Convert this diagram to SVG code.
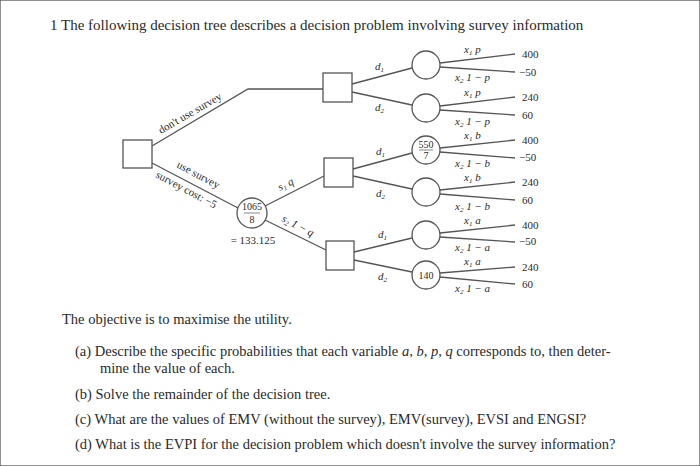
<svg xmlns="http://www.w3.org/2000/svg" width="700" height="466" viewBox="0 0 700 466">
<style>
text{font-family:"Liberation Serif","DejaVu Serif",serif;fill:#2a2a2a}
.t{font-size:14.5px}
.h{font-size:15px}
.s{font-size:10px}
.m{font-size:11px;font-style:italic}
.n{font-size:11px}
line,polyline{stroke:#555;stroke-width:1.3;fill:none}
rect,circle{stroke:#555;stroke-width:1.3;fill:none}
</style>
<rect width="700" height="466" fill="#f1f1ef"/>
<text class="h" x="50" y="30">1 The following decision tree describes a decision problem involving survey information</text>
<g id="connectors">
<polyline points="152,146 248,89 323,89"/>
<line x1="152" y1="163" x2="238" y2="208"/>
<line x1="265" y1="206" x2="324" y2="176"/>
<line x1="265" y1="220" x2="326" y2="250"/>
<line x1="352" y1="84" x2="412" y2="68"/>
<line x1="352" y1="92" x2="412" y2="105"/>
<line x1="353" y1="169" x2="412" y2="153"/>
<line x1="353" y1="176" x2="412" y2="189"/>
<line x1="354" y1="252" x2="412" y2="238"/>
<line x1="354" y1="260" x2="412" y2="272"/>
<g id="outs">
<line x1="440" y1="63" x2="515" y2="54"/><line x1="440" y1="67" x2="515" y2="72"/>
<line x1="440" y1="106" x2="515" y2="97"/><line x1="440" y1="110" x2="515" y2="115"/>
<line x1="440" y1="148" x2="515" y2="140"/><line x1="440" y1="152" x2="515" y2="158"/>
<line x1="440" y1="190" x2="515" y2="182"/><line x1="440" y1="194" x2="515" y2="200"/>
<line x1="440" y1="233" x2="515" y2="225"/><line x1="440" y1="237" x2="515" y2="242"/>
<line x1="440" y1="273" x2="515" y2="267"/><line x1="440" y1="277" x2="515" y2="284"/>
</g>
</g>
<g id="root"><rect x="123" y="140" width="29" height="28"/></g>
<g id="d-none"><rect x="323" y="73" width="29" height="29"/></g>
<g id="d-s1"><rect x="324" y="158" width="29" height="29"/></g>
<g id="d-s2"><rect x="326" y="241" width="28" height="29"/></g>
<g id="survey"><circle cx="252" cy="213" r="15"/>
<text class="s" x="252" y="210" text-anchor="middle">1065</text><line x1="244" y1="213" x2="260" y2="213" style="stroke-width:0.7"/><text class="s" x="252" y="223" text-anchor="middle">8</text>
<text class="n" x="253" y="244" text-anchor="middle">= 133.125</text></g>
<g id="c1"><circle cx="426" cy="65" r="14"/></g>
<g id="c2"><circle cx="426" cy="108" r="14"/></g>
<g id="c3"><circle cx="426" cy="150" r="14"/><text class="s" x="426" y="148" text-anchor="middle">550</text><line x1="419" y1="150" x2="433" y2="150" style="stroke-width:0.7"/><text class="s" x="426" y="159" text-anchor="middle">7</text></g>
<g id="c4"><circle cx="426" cy="192" r="14"/></g>
<g id="c5"><circle cx="426" cy="235" r="14"/></g>
<g id="c6"><circle cx="426" cy="275" r="14"/><text class="s" x="426" y="279" text-anchor="middle">140</text></g>
<g id="labels">
<text class="n" transform="translate(161,134) rotate(-30)">don't use survey</text>
<text class="n" transform="translate(176,167) rotate(28)">use survey</text>
<text class="n" transform="translate(155,177) rotate(28)">survey cost: −5</text>
<text class="m" transform="translate(280,191) rotate(-27)">s<tspan font-size="7" dy="2">1</tspan><tspan dy="-2">  q</tspan></text>
<text class="m" transform="translate(281,221) rotate(27)">s<tspan font-size="7" dy="2">2</tspan><tspan dy="-2">  1 − q</tspan></text>
<text class="m" x="375" y="70">d<tspan font-size="7" dy="2">1</tspan></text>
<text class="m" x="375" y="111">d<tspan font-size="7" dy="2">2</tspan></text>
<text class="m" x="376" y="155">d<tspan font-size="7" dy="2">1</tspan></text>
<text class="m" x="376" y="197">d<tspan font-size="7" dy="2">2</tspan></text>
<text class="m" x="378" y="238">d<tspan font-size="7" dy="2">1</tspan></text>
<text class="m" x="378" y="280">d<tspan font-size="7" dy="2">2</tspan></text>
</g>
<g id="branch-labels">
<text class="m" x="464" y="53">x<tspan font-size="7" dy="2">1</tspan><tspan dy="-2">  p</tspan></text>
<text class="m" x="455" y="81">x<tspan font-size="7" dy="2">2</tspan><tspan dy="-2">  1 − p</tspan></text>
<text class="m" x="464" y="96">x<tspan font-size="7" dy="2">1</tspan><tspan dy="-2">  p</tspan></text>
<text class="m" x="455" y="125">x<tspan font-size="7" dy="2">2</tspan><tspan dy="-2">  1 − p</tspan></text>
<text class="m" x="464" y="139">x<tspan font-size="7" dy="2">1</tspan><tspan dy="-2">  b</tspan></text>
<text class="m" x="455" y="167">x<tspan font-size="7" dy="2">2</tspan><tspan dy="-2">  1 − b</tspan></text>
<text class="m" x="464" y="181">x<tspan font-size="7" dy="2">1</tspan><tspan dy="-2">  b</tspan></text>
<text class="m" x="455" y="210">x<tspan font-size="7" dy="2">2</tspan><tspan dy="-2">  1 − b</tspan></text>
<text class="m" x="464" y="224">x<tspan font-size="7" dy="2">1</tspan><tspan dy="-2">  a</tspan></text>
<text class="m" x="455" y="251">x<tspan font-size="7" dy="2">2</tspan><tspan dy="-2">  1 − a</tspan></text>
<text class="m" x="464" y="265">x<tspan font-size="7" dy="2">1</tspan><tspan dy="-2">  a</tspan></text>
<text class="m" x="455" y="292">x<tspan font-size="7" dy="2">2</tspan><tspan dy="-2">  1 − a</tspan></text>
</g>
<g id="values">
<text class="n" x="522" y="58">400</text><text class="n" x="519" y="76">−50</text>
<text class="n" x="522" y="101">240</text><text class="n" x="522" y="119">60</text>
<text class="n" x="522" y="144">400</text><text class="n" x="519" y="161">−50</text>
<text class="n" x="522" y="186">240</text><text class="n" x="522" y="204">60</text>
<text class="n" x="522" y="229">400</text><text class="n" x="519" y="245">−50</text>
<text class="n" x="522" y="271">240</text><text class="n" x="522" y="288">60</text>
</g>
<g id="questions">
<text class="t" x="62" y="324">The objective is to maximise the utility.</text>
<text class="t" x="75" y="356">(a) Describe the specific probabilities that each variable <tspan font-style="italic">a, b, p, q</tspan> corresponds to, then deter-</text>
<text class="t" x="100" y="373">mine the value of each.</text>
<text class="t" x="75" y="399">(b) Solve the remainder of the decision tree.</text>
<text class="t" x="75" y="424">(c) What are the values of EMV (without the survey), EMV(survey), EVSI and ENGSI?</text>
<text class="t" x="75" y="449">(d) What is the EVPI for the decision problem which doesn't involve the survey information?</text>
</g>
</svg>
